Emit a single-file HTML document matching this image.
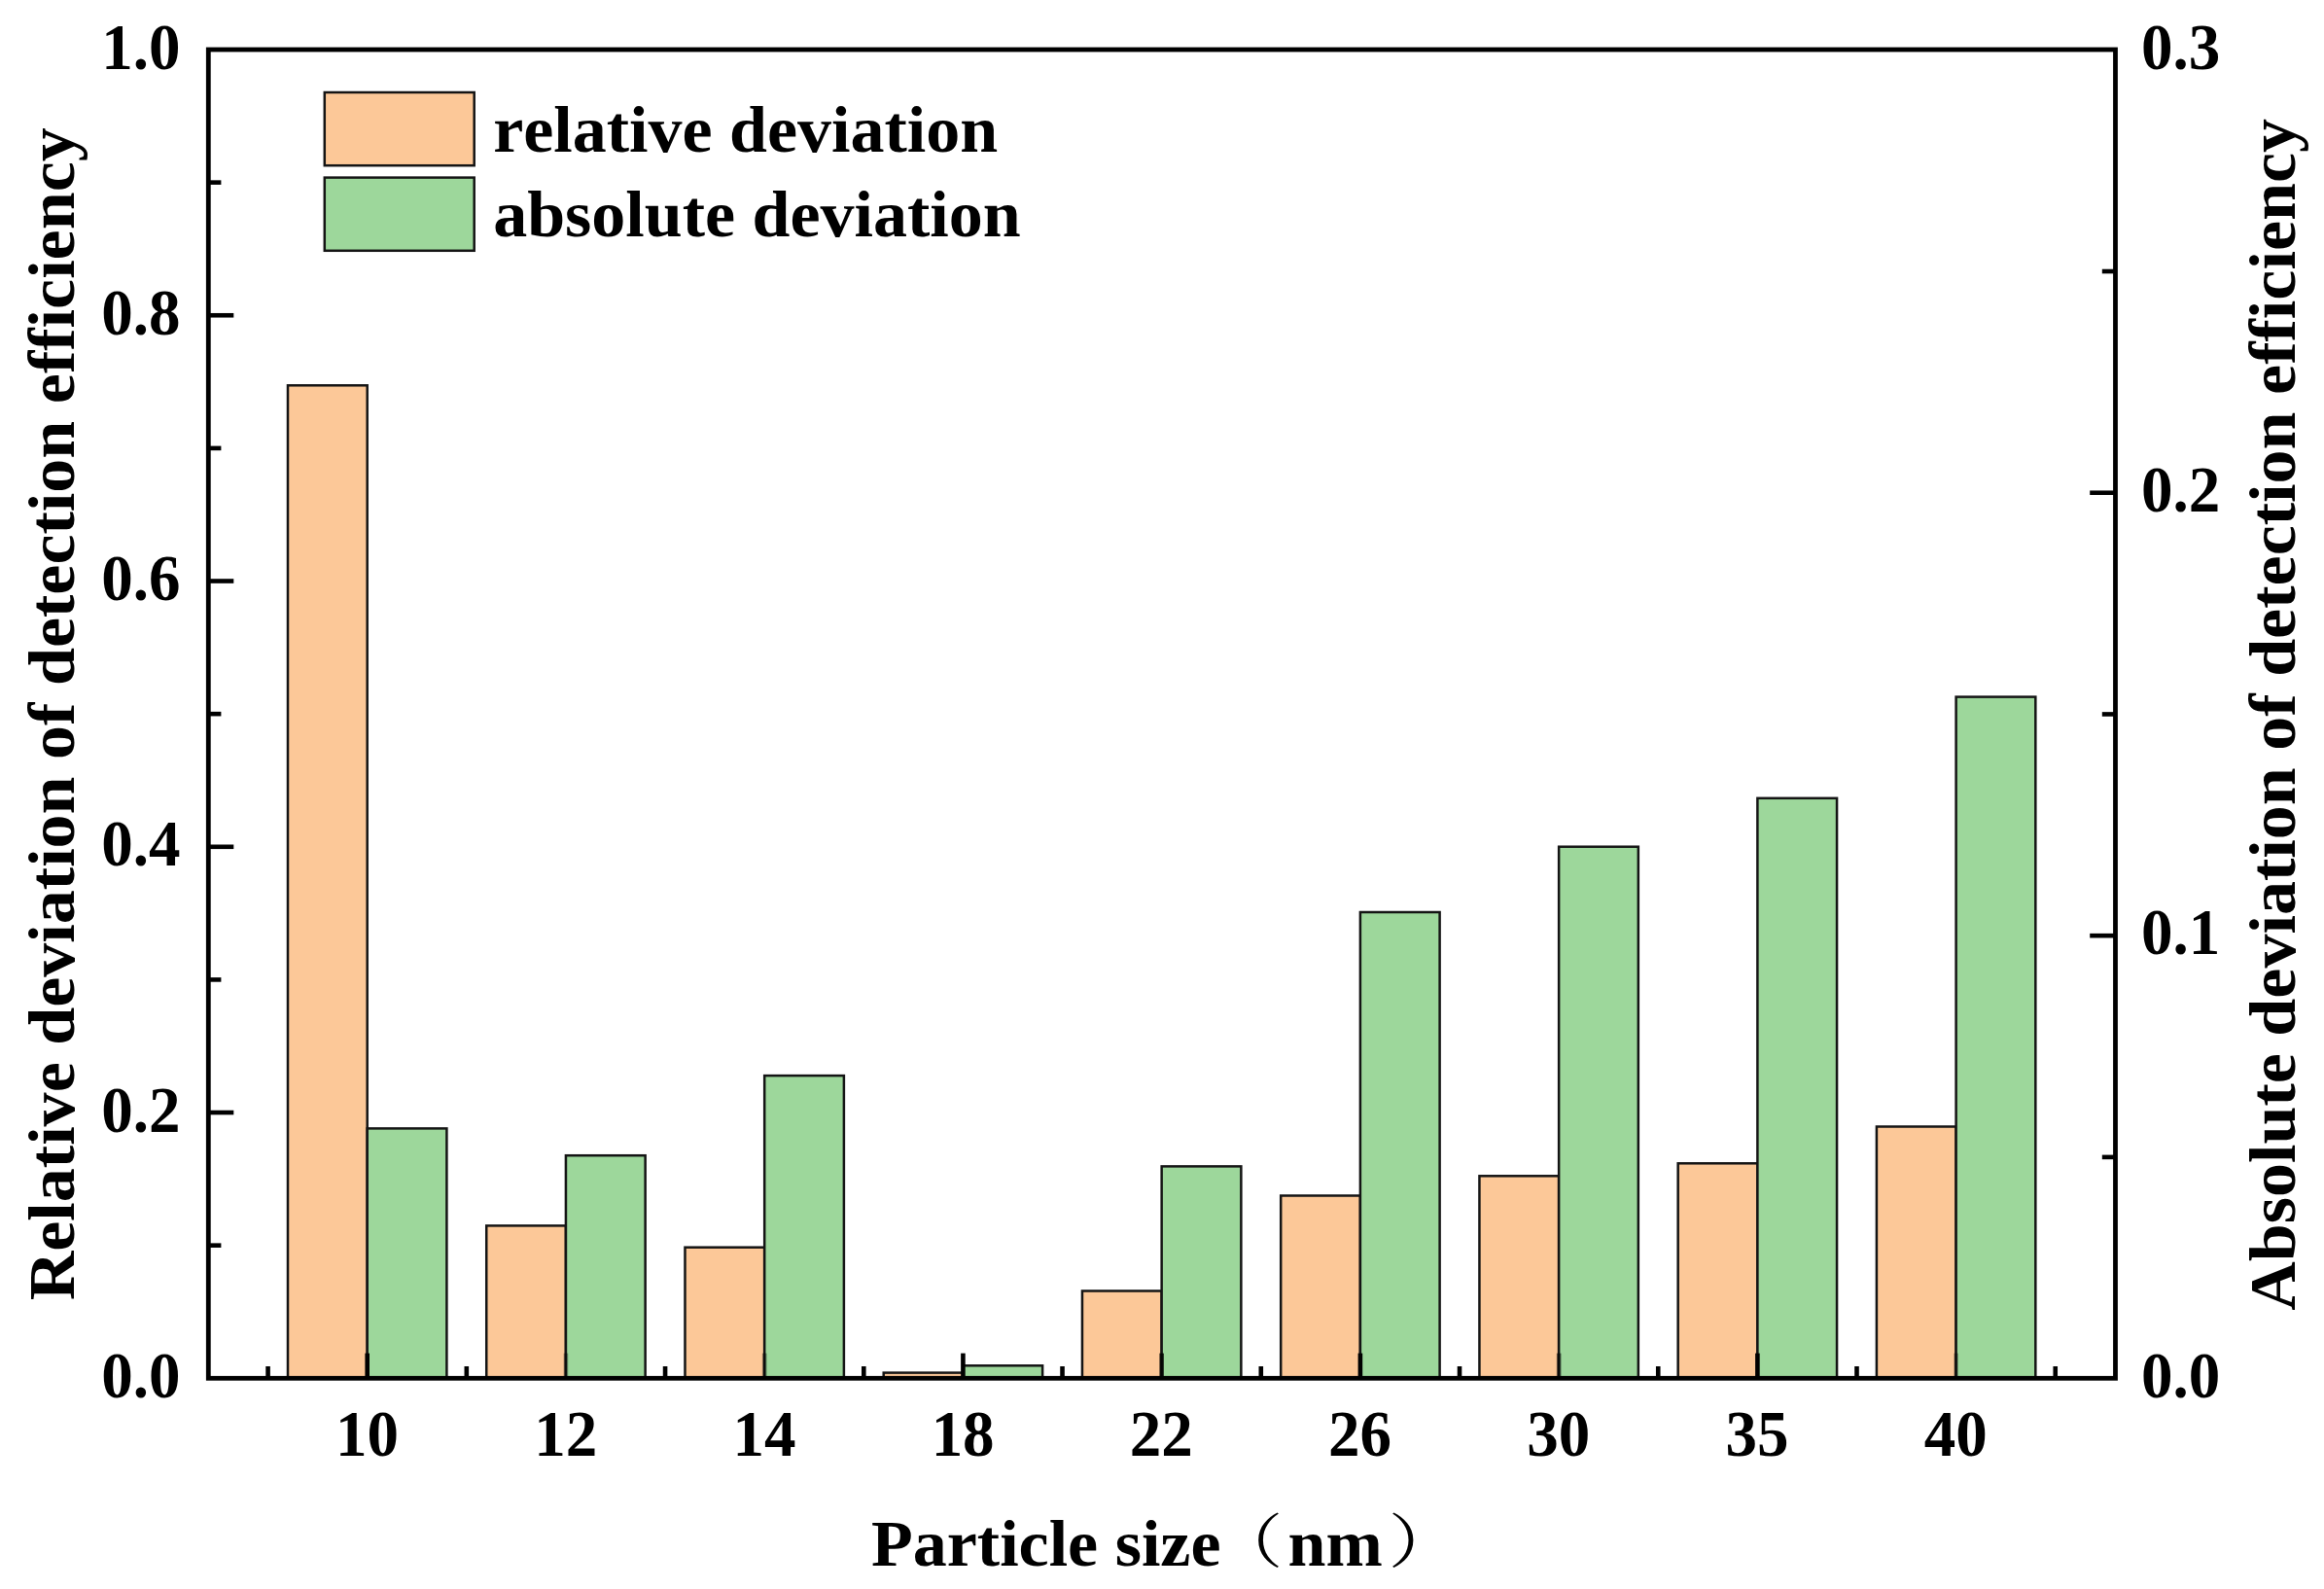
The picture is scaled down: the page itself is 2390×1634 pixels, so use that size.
<!DOCTYPE html>
<html lang="en">
<head>
<meta charset="utf-8">
<title>Deviation of detection efficiency</title>
<style>
html,body{margin:0;padding:0;background:#fff;}
body{width:2390px;height:1634px;overflow:hidden;}
svg{display:block;}
text{font-family:"Liberation Serif","Noto Serif CJK SC",serif;font-weight:bold;fill:#000;font-variant-ligatures:none;font-kerning:none;}
.t{font-size:65px;}
.l{font-size:70px;}
.cj{font-family:"Noto Serif CJK SC","Liberation Serif",serif;font-weight:400;}
</style>
</head>
<body>
<svg width="2390" height="1634" viewBox="0 0 2390 1634">
<rect x="0" y="0" width="2390" height="1634" fill="#fff"/>
<g stroke="#141414" stroke-width="2.5" stroke-linejoin="miter">
<rect x="296.00" y="396.30" width="81.70" height="1021.00" fill="#FCC898"/>
<rect x="377.70" y="1160.40" width="81.70" height="256.90" fill="#9DD79B"/>
<rect x="500.24" y="1260.40" width="81.70" height="156.90" fill="#FCC898"/>
<rect x="581.94" y="1188.20" width="81.70" height="229.10" fill="#9DD79B"/>
<rect x="704.48" y="1282.70" width="81.70" height="134.60" fill="#FCC898"/>
<rect x="786.18" y="1106.10" width="81.70" height="311.20" fill="#9DD79B"/>
<rect x="908.72" y="1411.60" width="81.70" height="5.70" fill="#FCC898"/>
<rect x="990.42" y="1404.30" width="81.70" height="13.00" fill="#9DD79B"/>
<rect x="1112.96" y="1327.50" width="81.70" height="89.80" fill="#FCC898"/>
<rect x="1194.66" y="1199.40" width="81.70" height="217.90" fill="#9DD79B"/>
<rect x="1317.20" y="1229.50" width="81.70" height="187.80" fill="#FCC898"/>
<rect x="1398.90" y="938.00" width="81.70" height="479.30" fill="#9DD79B"/>
<rect x="1521.44" y="1209.30" width="81.70" height="208.00" fill="#FCC898"/>
<rect x="1603.14" y="870.70" width="81.70" height="546.60" fill="#9DD79B"/>
<rect x="1725.68" y="1196.30" width="81.70" height="221.00" fill="#FCC898"/>
<rect x="1807.38" y="820.80" width="81.70" height="596.50" fill="#9DD79B"/>
<rect x="1929.92" y="1158.50" width="81.70" height="258.80" fill="#FCC898"/>
<rect x="2011.62" y="716.60" width="81.70" height="700.70" fill="#9DD79B"/>
</g>
<g stroke="#141414" stroke-width="2.5">
<rect x="333.8" y="95.0" width="153.9" height="75.2" fill="#FCC898"/>
<rect x="333.8" y="182.6" width="153.9" height="75.2" fill="#9DD79B"/>
</g>
<text class="l" transform="translate(507.2,155.7) scale(1,0.975)">relative deviation</text>
<text class="l" transform="translate(507.2,243.4) scale(1,0.975)">absolute deviation</text>
<g stroke="#000" stroke-width="4.6" fill="none">
<line x1="214.30" y1="1280.67" x2="227.40" y2="1280.67"/>
<line x1="214.30" y1="1144.04" x2="240.30" y2="1144.04"/>
<line x1="214.30" y1="1007.41" x2="227.40" y2="1007.41"/>
<line x1="214.30" y1="870.78" x2="240.30" y2="870.78"/>
<line x1="214.30" y1="734.15" x2="227.40" y2="734.15"/>
<line x1="214.30" y1="597.52" x2="240.30" y2="597.52"/>
<line x1="214.30" y1="460.89" x2="227.40" y2="460.89"/>
<line x1="214.30" y1="324.26" x2="240.30" y2="324.26"/>
<line x1="214.30" y1="187.63" x2="227.40" y2="187.63"/>
<line x1="2175.50" y1="1189.88" x2="2161.80" y2="1189.88"/>
<line x1="2175.50" y1="962.17" x2="2149.20" y2="962.17"/>
<line x1="2175.50" y1="734.45" x2="2161.80" y2="734.45"/>
<line x1="2175.50" y1="506.73" x2="2149.20" y2="506.73"/>
<line x1="2175.50" y1="279.02" x2="2161.80" y2="279.02"/>
<line x1="377.70" y1="1417.30" x2="377.70" y2="1391.60" stroke-opacity="1"/>
<line x1="581.94" y1="1417.30" x2="581.94" y2="1391.60" stroke-opacity="0.35"/>
<line x1="786.18" y1="1417.30" x2="786.18" y2="1391.60" stroke-opacity="0.4"/>
<line x1="990.42" y1="1417.30" x2="990.42" y2="1391.60" stroke-opacity="1"/>
<line x1="1194.66" y1="1417.30" x2="1194.66" y2="1391.60" stroke-opacity="0.8"/>
<line x1="1398.90" y1="1417.30" x2="1398.90" y2="1391.60" stroke-opacity="1"/>
<line x1="1603.14" y1="1417.30" x2="1603.14" y2="1391.60" stroke-opacity="0.55"/>
<line x1="1807.38" y1="1417.30" x2="1807.38" y2="1391.60" stroke-opacity="1"/>
<line x1="2011.62" y1="1417.30" x2="2011.62" y2="1391.60" stroke-opacity="0.3"/>
<line x1="275.58" y1="1417.30" x2="275.58" y2="1405.00"/>
<line x1="479.82" y1="1417.30" x2="479.82" y2="1405.00"/>
<line x1="684.06" y1="1417.30" x2="684.06" y2="1405.00"/>
<line x1="888.30" y1="1417.30" x2="888.30" y2="1405.00"/>
<line x1="1092.54" y1="1417.30" x2="1092.54" y2="1405.00"/>
<line x1="1296.78" y1="1417.30" x2="1296.78" y2="1405.00"/>
<line x1="1501.02" y1="1417.30" x2="1501.02" y2="1405.00"/>
<line x1="1705.26" y1="1417.30" x2="1705.26" y2="1405.00"/>
<line x1="1909.50" y1="1417.30" x2="1909.50" y2="1405.00"/>
<line x1="2113.74" y1="1417.30" x2="2113.74" y2="1405.00"/>
</g>
<rect x="214.30" y="51.00" width="1961.20" height="1366.30" fill="none" stroke="#000" stroke-width="4.8"/>
<text class="t" transform="translate(185.4,1436.90) scale(1,1.03)" text-anchor="end">0.0</text>
<text class="t" transform="translate(185.4,1163.64) scale(1,1.03)" text-anchor="end">0.2</text>
<text class="t" transform="translate(185.4,890.38) scale(1,1.03)" text-anchor="end">0.4</text>
<text class="t" transform="translate(185.4,617.12) scale(1,1.03)" text-anchor="end">0.6</text>
<text class="t" transform="translate(185.4,343.86) scale(1,1.03)" text-anchor="end">0.8</text>
<text class="t" transform="translate(185.4,70.60) scale(1,1.03)" text-anchor="end">1.0</text>
<text class="t" transform="translate(2201.9,1436.90) scale(1,1.03)">0.0</text>
<text class="t" transform="translate(2201.9,981.47) scale(1,1.03)">0.1</text>
<text class="t" transform="translate(2201.9,526.03) scale(1,1.03)">0.2</text>
<text class="t" transform="translate(2201.9,70.60) scale(1,1.03)">0.3</text>
<text class="t" transform="translate(377.40,1497.0) scale(1,1.03)" text-anchor="middle">10</text>
<text class="t" transform="translate(581.64,1497.0) scale(1,1.03)" text-anchor="middle">12</text>
<text class="t" transform="translate(785.88,1497.0) scale(1,1.03)" text-anchor="middle">14</text>
<text class="t" transform="translate(990.12,1497.0) scale(1,1.03)" text-anchor="middle">18</text>
<text class="t" transform="translate(1194.36,1497.0) scale(1,1.03)" text-anchor="middle">22</text>
<text class="t" transform="translate(1398.60,1497.0) scale(1,1.03)" text-anchor="middle">26</text>
<text class="t" transform="translate(1602.84,1497.0) scale(1,1.03)" text-anchor="middle">30</text>
<text class="t" transform="translate(1807.08,1497.0) scale(1,1.03)" text-anchor="middle">35</text>
<text class="t" transform="translate(2011.32,1497.0) scale(1,1.03)" text-anchor="middle">40</text>
<text class="l" transform="translate(896,1609.5) scale(1,0.975)">Particle size</text>
<text class="l cj" transform="translate(1247.0,1606.5) scale(1.035,0.864)">（</text>
<text class="l" transform="translate(1324.6,1609.5) scale(1,0.975)">nm</text>
<text class="l cj" transform="translate(1427.6,1606.5) scale(1.06,0.864)">）</text>
<text class="l" transform="translate(75.5,734.3) rotate(-90) scale(1,0.975)" text-anchor="middle" textLength="1206.1" lengthAdjust="spacing">Relative deviation of detection efficiency</text>
<text class="l" transform="translate(2359.5,734.9) rotate(-90) scale(1,0.975)" text-anchor="middle" textLength="1225.9" lengthAdjust="spacing">Absolute deviation of detection efficiency</text>
</svg>
</body>
</html>
